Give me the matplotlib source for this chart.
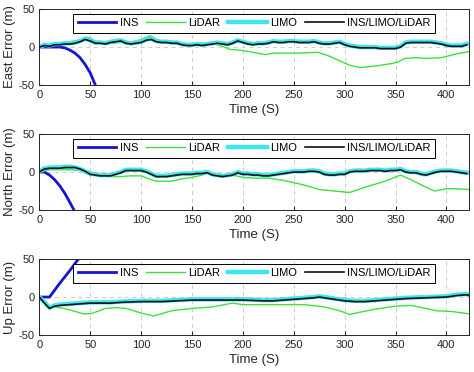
import matplotlib
matplotlib.use("Agg")
import matplotlib.pyplot as plt
import numpy as np

plt.rcParams['font.family'] = ['Liberation Sans', 'DejaVu Sans']
plt.rcParams['axes.unicode_minus'] = False

# ---- East ----
t_ins_e = [0, 10, 20, 25, 30, 35, 40, 45, 50, 55]
ins_e = [0, 0, 0, -1, -4, -8, -14, -23, -34, -50]

t_lidar_e = [0, 10, 20, 30, 40, 46, 50, 55, 60, 70, 80, 90, 100, 109, 115, 120, 130, 140, 150,
             160, 170, 180, 187, 197, 210, 222, 230, 250, 274, 285, 295, 305, 315, 330, 345, 352,
             359, 370, 380, 395, 410, 422]
lidar_e = [0, 2, 5, 7, 9, 13, 12, 8, 6, 5, 6, 6, 10, 15, 10, 8, 6, 5, 4,
           5, 5, 1, -3, -4, -7, -10, -8, -8, -7, -12, -18, -24, -27, -25, -22, -20,
           -15, -14, -15, -14, -9, -6]

t_fuse = list(range(0, 425, 5))
fuse_e = [0, 2, 1, 3, 3, 4, 4, 5, 7, 10, 8, 5, 5, 4, 6, 7, 8, 5, 4, 5, 6, 9, 10, 7, 6, 6, 5,
          5, 3, 2, 2, 3, 2, 3, 4, 5, 4, 3, 5, 8, 6, 4, 3, 4, 4, 5, 7, 6, 6, 7, 7, 6, 6, 6, 7,
          5, 4, 4, 5, 6, 3, 1, 0, -1, -1, -1, -1, -2, -2, -2, -2, 0, 5, 6, 6, 6, 6, 6, 5, 4, 2,
          1, 1, 1, 3]
limo_e = [0, 3, 2, 4, 4, 5, 5, 6, 8, 11, 9, 6, 6, 5, 7, 8, 9, 6, 5, 6, 7, 10, 11, 8, 7, 7, 6,
          6, 4, 3, 3, 4, 3, 4, 5, 6, 5, 4, 6, 9, 7, 5, 4, 5, 5, 6, 8, 7, 7, 8, 8, 7, 7, 7, 8,
          6, 5, 5, 6, 7, 4, 2, 1, 0, 0, 0, 0, -1, -1, -1, -1, 1, 6, 7, 7, 7, 7, 7, 6, 5, 3,
          2, 2, 2, 4]

# ---- North ----
t_ins_n = [0, 5, 10, 15, 20, 25, 30, 34]
ins_n = [0, 0, -4, -10, -18, -28, -40, -50]

t_lidar_n = [0, 10, 20, 30, 40, 45, 50, 60, 70, 80, 90, 100, 110, 115, 130, 140, 150, 160, 165,
             170, 180, 190, 200, 210, 225, 240, 260, 275, 290, 305, 320, 340, 355, 365, 380, 388,
             400, 410, 422]
lidar_n = [0, 3, 3, 3, 2, 0, -3, -5, -6, -6, -5, -5, -10, -12, -12, -9, -7, -4, -1,
           -4, -5, -4, -7, -8, -8, -11, -17, -23, -25, -27, -20, -12, -4, -10, -20, -25,
           -22, -22, -23]

fuse_n = [0, 4, 5, 5, 5, 6, 6, 6, 4, 1, -3, -4, -5, -5, -5, -3, -1, 2, 2, 2, 2, 0, -3, -6,
          -6, -6, -5, -4, -3, -3, -3, -2, -2, -1, -4, -5, -6, -5, -4, -1, -3, -3, -4, -4, -5,
          -5, -4, -3, -2, -1, 0, 0, 0, 1, 1, 0, -3, -4, -4, -3, -3, 0, 1, 1, 1, 2, 2, 2, 1, 2,
          2, 3, 0, -1, -1, -3, -4, -2, 0, 1, 1, 1, 0, -1, -2]
limo_n = [0, 5, 6, 6, 6, 7, 7, 6, 4, 1, -2, -3, -4, -4, -4, -2, 0, 3, 3, 3, 3, 1, -2, -5,
          -5, -5, -4, -3, -2, -2, -2, -1, -1, 0, -3, -4, -5, -4, -3, 0, -2, -2, -3, -3, -4,
          -4, -3, -2, -1, 0, 1, 1, 1, 2, 2, 1, -2, -3, -3, -2, -2, 1, 2, 2, 2, 3, 3, 3, 2, 3,
          3, 4, 1, 0, 0, -2, -3, -1, 1, 2, 2, 2, 1, 0, -1]

# ---- Up ----
t_ins_u = [0, 10, 20, 30, 40]
ins_u = [0, 0, 18, 35, 53]

t_lidar_u = [0, 10, 20, 30, 43, 50, 55, 65, 75, 85, 100, 112, 120, 130, 150, 170, 190, 200,
             210, 230, 260, 280, 295, 305, 315, 330, 350, 365, 380, 390, 405, 422]
lidar_u = [0, -13, -14, -17, -22, -22, -20, -15, -14, -15, -21, -25, -22, -18, -15, -13, -8, -10,
           -10, -10, -10, -13, -18, -23, -20, -16, -12, -11, -15, -18, -19, -22]

t_fuse_u = [0, 5, 10, 15, 20, 30, 40, 50, 60, 70, 80, 100, 120, 150, 180, 200, 220, 230, 250,
            260, 270, 275, 280, 290, 300, 310, 320, 330, 340, 350, 360, 380, 400, 410, 420, 422]
fuse_u = [0, -8, -15, -12, -11, -10, -9, -8, -8, -8, -7, -6, -6, -4, -4, -4, -5, -5, -3,
          -2, -1, 0, -1, -3, -5, -6, -6, -5, -4, -3, -2, -1, 0, 2, 3, 2]
limo_u = [0, -7, -14, -11, -10, -9, -8, -7, -7, -7, -6, -5, -5, -3, -3, -3, -4, -4, -2,
          -1, 0, 1, 0, -2, -4, -5, -5, -4, -3, -2, -1, 0, 1, 3, 4, 3]

panels = [
    ("East Error (m)", t_ins_e, ins_e, t_lidar_e, lidar_e, t_fuse, limo_e, t_fuse, fuse_e),
    ("North Error (m)", t_ins_n, ins_n, t_lidar_n, lidar_n, t_fuse, limo_n, t_fuse, fuse_n),
    ("Up Error (m)", t_ins_u, ins_u, t_lidar_u, lidar_u, t_fuse_u, limo_u, t_fuse_u, fuse_u),
]

fig = plt.figure(figsize=(4.74, 3.72), dpi=100)
bottoms = [0.7715, 0.4355, 0.0995]
txt = '#262626'

for (ylab, ti, yi, tl, yl, tm, ym, tf, yf), b in zip(panels, bottoms):
    ax = fig.add_axes([0.083, b, 0.906, 0.204])
    ax.plot(ti, yi, color='#1414d2', lw=2, label='INS')
    ax.plot(tl, yl, color='#3ee03e', lw=1, label='LiDAR')
    ax.plot(tm, ym, color='#3ee6f2', lw=3.2, label='LIMO')
    ax.plot(tf, yf, color='#111111', lw=1.2, label='INS/LIMO/LiDAR')
    ax.set_xlim(0, 422)
    ax.set_ylim(-50, 50)
    ax.set_xticks(np.arange(0, 401, 50))
    ax.set_yticks([-50, 0, 50])
    ax.grid(True, ls=(0, (4, 4)), color='#cccccc', lw=0.7)
    ax.tick_params(direction='in', labelsize=8, colors=txt, length=3)
    for s in ax.spines.values():
        s.set_color(txt)
        s.set_linewidth(0.7)
    ax.set_xlabel('Time (S)', fontsize=9.5, color=txt, labelpad=3)
    ax.set_ylabel(ylab, fontsize=9.5, color=txt, labelpad=2)
    leg = ax.legend(loc='upper center', ncol=4, fontsize=8, frameon=True, fancybox=False,
                    framealpha=1, edgecolor='black', handlelength=3.5, columnspacing=0.7,
                    borderpad=0.4, handletextpad=0.3, borderaxespad=0,
                    bbox_to_anchor=(0.5, 0.94))
    leg.get_frame().set_linewidth(0.7)

fig.savefig('out.png', dpi=100)
